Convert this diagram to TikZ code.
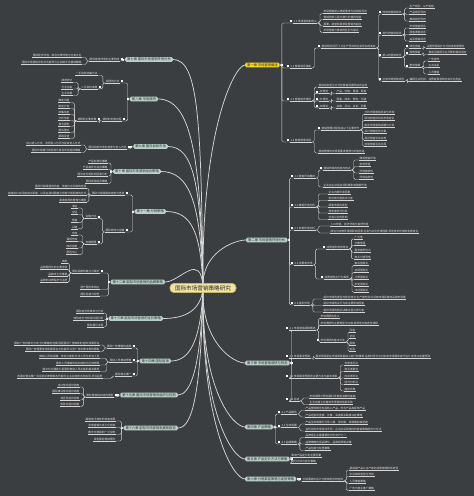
\documentclass[tikz,border=0pt]{standalone}
\usepackage{fontspec}
\usepackage{tikz}
\usetikzlibrary{backgrounds}
\newfontfamily\cjk{Noto Sans CJK SC}
\newcommand\leaffont{\cjk\fontsize{2.7}{3.2}\selectfont}
\newcommand\chapfont{\cjk\fontsize{3.3}{4}\selectfont}
\newcommand\rootfont{\cjk\fontsize{5.6}{6.6}\selectfont}
\definecolor{bgc}{HTML}{3B3E40}
\definecolor{linkc}{HTML}{D6D6D6}
\definecolor{txtc}{HTML}{E4E4E4}
\definecolor{chapc}{HTML}{B8D1C8}
\definecolor{hotc}{HTML}{F3D41E}
\definecolor{rootc}{HTML}{F2E4A4}
\definecolor{rootb}{HTML}{CDB866}
\definecolor{inkc}{HTML}{2A2A2A}
\tikzset{
  uline/.style={append after command={(\tikzlastnode.south west) edge[draw=linkc, line width=0.35pt] (\tikzlastnode.south east)}},
  leaf/.style={font=\leaffont, text=txtc, inner xsep=0.4pt, inner ysep=0.5pt, uline},
  knob/.style={draw=white, line width=2pt},
  lr/.style={leaf, anchor=west},
  ll/.style={leaf, anchor=east},
  hr/.style={lr, append after command={([xshift=-0.6pt]\tikzlastnode.west) edge[knob] ([xshift=-2.6pt]\tikzlastnode.west)}},
  hl/.style={ll, append after command={([xshift=0.6pt]\tikzlastnode.east) edge[knob] ([xshift=2.6pt]\tikzlastnode.east)}},
  chap/.style={fill=chapc, rounded corners=1.4pt, font=\chapfont, text=inkc, inner xsep=2pt, inner ysep=0.9pt},
  chapR/.style={chap, anchor=west, append after command={([xshift=0.8pt]\tikzlastnode.east) edge[knob] ([xshift=2.8pt]\tikzlastnode.east)}},
  chapL/.style={chap, anchor=east, append after command={([xshift=-0.8pt]\tikzlastnode.west) edge[knob] ([xshift=-2.8pt]\tikzlastnode.west)}},
  root/.style={fill=rootc, draw=rootb, line width=0.7pt, rounded corners=4pt, font=\rootfont, text=inkc, inner xsep=5pt, inner ysep=2pt},
  trunk/.style={draw=linkc, line width=0.75pt},
  link/.style={draw=linkc, line width=0.4pt, rounded corners=1.5pt},
  toR/.style={link, to path={(\tikztostart.south east) -- ++(2.5,0) |- (\tikztotarget.south west)}},
  toL/.style={link, to path={(\tikztostart.south west) -- ++(-2.5,0) |- (\tikztotarget.south east)}},
  boxR/.style={link, to path={(\tikztostart.east) -- ++(2,0) |- (\tikztotarget.south west)}},
  boxL/.style={link, to path={(\tikztostart.west) -- ++(-2,0) |- (\tikztotarget.south east)}},
}
\begin{document}
\begin{tikzpicture}[x=1pt, y=-1pt]
    \useasboundingbox (0,0) rectangle (474,496);
    \node[root] (root) at (203,288) {国际市场营销策略研究};

    % chapter 1
    \node[chapR, fill=hotc] (ch1) at (245,65) {第一章 市场营销概述};
    \node[hr] (a1) at (293,21) {1.1 市场营销的含义};
    \node[lr] (a1-1) at (323,11.5) {市场营销是以满足需求为目的的活动};
    \node[lr] (a1-2) at (323,17.5) {营销的核心是交换与价值的创造};
    \node[lr] (a1-3) at (323,24) {需要、欲望和需求是营销的起点};
    \node[lr] (a1-4) at (323,30.5) {市场营销与推销的区别与联系};
    \node[hr] (a2) at (290,66) {1.2 营销观念演变};
    \node[hr] (a21) at (321,46) {营销观念经历了从生产导向到社会导向的演变};
    \node[hr] (a211) at (382,12) {传统的营销观念};
    \node[lr] (a211-1) at (409,6) {生产观念：以产定销};
    \node[lr] (a211-2) at (409,12.5) {产品观念导向};
    \node[lr] (a211-3) at (409,19) {推销观念导向};
    \node[hr] (a212) at (382,33) {现代的营销观念};
    \node[lr] (a212-1) at (409,26) {市场营销观念};
    \node[lr] (a212-2) at (409,32.5) {顾客满意观念};
    \node[lr] (a212-3) at (409,39) {关系营销观念};
    \node[hr] (a213) at (382,55) {新兴的营销观念};
    \node[hr] (a2131) at (409,46) {绿色营销};
    \node[lr] (a2131-1) at (426,46) {注重环境保护与可持续发展理念};
    \node[hr] (a2132) at (409,52.5) {网络营销};
    \node[lr] (a2132-1) at (428,52.5) {借助互联网平台开展的营销活动};
    \node[hr] (a2133) at (409,65.5) {整合营销};
    \node[lr] (a2133-1) at (428,59) {广告宣传};
    \node[lr] (a2133-2) at (428,65.5) {公共关系};
    \node[lr] (a2133-3) at (428,72) {人员推销};
    \node[hr] (a214) at (382,79) {社会市场营销观念};
    \node[lr] (a214-1) at (409,79) {兼顾企业利润、消费者需求和社会长远利益};
    \node[hr] (a3) at (290,99) {1.3 营销组合理论};
    \node[lr] (a3-1) at (318,85) {营销组合是企业可控营销因素的综合运用};
    \node[hr] (a31) at (319,91.5) {4P理论};
    \node[lr] (a31-1) at (336,91.5) {产品、价格、渠道、促销};
    \node[hr] (a32) at (319,99) {4C理论};
    \node[lr] (a32-1) at (336,99) {顾客、成本、便利、沟通};
    \node[hr] (a33) at (319,106) {4R理论};
    \node[lr] (a33-1) at (336,106) {关联、反应、关系、回报};
    \node[hr] (a4) at (290,140) {1.4 营销管理过程};
    \node[hr] (a41) at (321,128) {营销管理过程包括以下主要环节};
    \node[lr] (a41-1) at (364,112) {分析市场营销机会与环境};
    \node[lr] (a41-2) at (364,118.5) {研究和选择目标市场定位};
    \node[lr] (a41-3) at (364,125) {制定市场营销战略与计划};
    \node[lr] (a41-4) at (364,131.5) {设计营销组合方案};
    \node[lr] (a41-5) at (364,138) {组织营销活动实施};
    \node[lr] (a41-6) at (364,144.5) {控制营销活动过程};
    \node[lr] (a4-1) at (318,151) {营销管理的实质是需求管理与价值创造};

    % chapter 2
    \node[chapR] (ch2) at (246,240) {第二章 市场营销环境分析};
    \node[hr] (b1) at (294,176) {2.1 营销环境概述};
    \node[hr] (b11) at (323,168) {营销环境的构成与特点};
    \node[lr] (b11-1) at (359,158) {微观营销环境};
    \node[lr] (b11-2) at (359,164.5) {宏观环境};
    \node[lr] (b11-3) at (359,171) {环境客观性};
    \node[lr] (b11-4) at (359,177.5) {环境动态性};
    \node[lr] (b1-1) at (323,185) {企业应主动适应并积极影响营销环境};
    \node[hr] (b2) at (294,205) {2.2 微观环境分析};
    \node[lr] (b2-1) at (328,192) {企业内部环境因素};
    \node[lr] (b2-2) at (328,198.5) {供应商与营销中介者};
    \node[lr] (b2-3) at (328,205) {顾客市场的类型};
    \node[lr] (b2-4) at (328,211) {竞争者状况分析};
    \node[lr] (b2-5) at (328,217.5) {社会公众的影响};
    \node[hr] (b3) at (294,228) {2.3 宏观环境分析};
    \node[lr] (b3-1) at (330,224) {人口环境、经济环境与自然环境};
    \node[lr] (b3-2) at (330,231) {政治与法律环境的影响因素 社会与文化环境因素 科学技术环境的发展变化};
    \node[hr] (b4) at (294,263) {2.4 消费者市场};
    \node[hr] (b41) at (326,247) {消费者市场的特点};
    \node[lr] (b41-1) at (354,237) {广泛性};
    \node[lr] (b41-2) at (354,243.5) {分散性强};
    \node[lr] (b41-3) at (354,250.5) {需求差异性大};
    \node[lr] (b41-4) at (354,257) {购买可诱导性};
    \node[hr] (b42) at (324,277) {消费者购买行为类型};
    \node[lr] (b42-1) at (354,263.5) {复杂型购买};
    \node[lr] (b42-2) at (354,270.5) {协调型购买};
    \node[lr] (b42-3) at (354,277) {习惯型购买};
    \node[lr] (b42-4) at (354,284) {多变型购买};
    \node[lr] (b42-5) at (354,290.5) {冲动型购买};
    \node[hr] (b5) at (294,303) {2.5 组织市场};
    \node[lr] (b5-1) at (323,297) {组织市场的类型与购买特点 生产者市场 中间商市场及政府采购市场等};
    \node[lr] (b5-2) at (323,303.5) {组织市场购买行为的主要影响因素};
    \node[lr] (b5-3) at (323,310) {组织市场的购买决策过程与参与者};

    % chapter 3
    \node[chapR] (ch3) at (245,363) {第三章 市场营销调研与预测};
    \node[hr] (c1) at (289,328) {3.1 市场营销调研概述};
    \node[lr] (c1-1) at (320,316) {市场调研的含义};
    \node[lr] (c1-2) at (320,323) {市场调研的主要类型与内容 探测性与描述性调研};
    \node[hr] (c11) at (320,340) {市场调研的基本方法};
    \node[lr] (c11-1) at (349,330) {问卷};
    \node[lr] (c11-2) at (349,336.5) {访谈};
    \node[lr] (c11-3) at (349,343) {观察};
    \node[lr] (c11-4) at (349,349.5) {实验};
    \node[hr] (c2) at (289,356) {3.2 市场需求预测};
    \node[lr] (c2-1) at (315,356) {需求预测是在市场调研基础上进行的推断 运用科学方法对未来市场需求进行估计 定性与定量预测};
    \node[hr] (c3) at (289,376) {3.3 市场需求预测的主要方法与基本步骤};
    \node[lr] (c3-1) at (344,363) {专家意见法};
    \node[lr] (c3-2) at (344,369.5) {购买者意向};
    \node[lr] (c3-3) at (344,376) {时间序列法};
    \node[lr] (c3-4) at (344,382.5) {回归分析法};
    \node[lr] (c3-5) at (344,389) {趋势外推};
    \node[hr] (c4) at (289,399) {3.4 总结};
    \node[lr] (c4-1) at (309,396) {市场调研与预测是科学营销决策的基础};
    \node[lr] (c4-2) at (309,402.5) {企业应建立完善的市场营销信息系统};

    % chapter 4
    \node[chapR] (ch4) at (245,427) {第四章 产品策略};
    \node[hr] (d1) at (281,412) {4.1 产品概念};
    \node[lr] (d1-1) at (305,408.5) {产品整体概念包括核心产品、形式产品和延伸产品};
    \node[lr] (d1-2) at (305,415) {产品组合的宽度、长度、深度和关联度决定策略};
    \node[hr] (d2) at (281,425.5) {4.2 生命周期};
    \node[lr] (d2-1) at (305,422) {产品生命周期分为导入期、成长期、成熟期和衰退期};
    \node[lr] (d2-2) at (305,429) {各阶段的市场特点不同，企业应采取相应的营销策略组合与方法};
    \node[hr] (d3) at (281,442) {4.3 品牌策略};
    \node[lr] (d3-1) at (305,435.5) {品牌是企业最重要的无形资产之一};
    \node[lr] (d3-2) at (305,442) {品牌策略包括品牌化、品牌延伸等决策};
    \node[lr] (d3-3) at (305,448.5) {产品包装与标签策略};

    % chapter 5
    \node[chapR] (ch5) at (245,459) {第五章 产品定价方法与策略};
    \node[lr] (e1) at (291,455) {影响产品定价的主要因素};
    \node[lr] (e2) at (291,461.5) {定价方法与定价策略};

    % chapter 6
    \node[chapR] (ch6) at (245,479) {第六章 分销渠道策略与促销策略};
    \node[hr] (f1) at (302,479) {分销渠道的设计与促销组合的选择};
    \node[lr] (f1-1) at (349,468) {渠道是产品从生产者向消费者转移的途径};
    \node[lr] (f1-2) at (349,474.5) {中间商的类型与作用};
    \node[lr] (f1-3) at (349,481.5) {人员推销策略};
    \node[lr] (f1-4) at (349,488.5) {广告与营业推广策略};

    % chapter 7
    \node[chapL] (ch7) at (173,59.5) {第七章 国际市场营销环境分析};
    \node[hl] (g1) at (120,59) {国际营销环境的主要构成};
    \node[ll] (g1-1) at (82,55.5) {国际经济环境、政治法律环境与社会文化};
    \node[ll] (g1-2) at (82,62.5) {国际市场营销中的文化差异与企业跨文化营销策略};

    % chapter 8
    \node[chapL] (ch8) at (158,99) {第八章 市场调研};
    \node[hl] (h1) at (120,81) {调研的方法};
    \node[ll] (h1-1) at (98,73.5) {一手资料收集方法};
    \node[hl] (h11) at (98,87) {二手资料来源};
    \node[ll] (h11-1) at (73,80.5) {政府统计};
    \node[ll] (h11-2) at (73,87) {行业协会};
    \node[ll] (h11-3) at (73,93.5) {企业年报};
    \node[hl] (h2) at (122,119) {调研的实施过程};
    \node[hl] (h21) at (97,119) {调研的主要步骤};
    \node[ll] (h21-1) at (70,100.5) {确定问题};
    \node[ll] (h21-2) at (70,106.5) {制定计划};
    \node[ll] (h21-3) at (70,112.5) {收集信息};
    \node[ll] (h21-4) at (70,118.5) {分析信息};
    \node[ll] (h21-5) at (70,124.5) {撰写报告};
    \node[ll] (h21-6) at (70,130.5) {提出建议};
    \node[ll] (h21-7) at (70,136.5) {跟踪反馈};

    % chapter 9
    \node[chapL] (ch9) at (168,146.5) {第九章 国际目标市场};
    \node[hl] (i1) at (127,147) {国际目标市场的选择与进入方式};
    \node[ll] (i1-1) at (81,143) {出口进入方式、合同进入方式与投资进入方式};
    \node[ll] (i1-2) at (81,150.5) {国际市场细分的标准与目标市场选择策略};

    % chapter 10
    \node[chapL] (ch10) at (161,171.5) {第十章 国际市场营销组合策略};
    \node[ll] (j1) at (108,161) {产品标准化策略};
    \node[ll] (j2) at (108,167.5) {产品差异化适应策略};
    \node[ll] (j3) at (108,174) {国际定价的影响因素分析};
    \node[ll] (j4) at (108,181.5) {国际促销组合策略};

    % chapter 11
    \node[chapL] (ch11) at (166,211.5) {第十一章 分销策略};
    \node[hl] (k1) at (125,193) {国际分销渠道的结构与选择};
    \node[ll] (k1-1) at (87,186) {国际分销渠道的长度、宽度与中间商的选择};
    \node[ll] (k1-2) at (87,193) {直接出口与间接出口渠道，以及在目标国建立自有分销网络的方式};
    \node[ll] (k1-3) at (87,200) {渠道成员的管理与激励};
    \node[hl] (k2) at (125,230) {国际物流与运输};
    \node[hl] (k21) at (97,216.5) {运输方式};
    \node[ll] (k21-1) at (78,206) {海运};
    \node[ll] (k21-2) at (78,212.5) {空运};
    \node[ll] (k21-3) at (78,220.5) {铁路};
    \node[ll] (k21-4) at (78,227) {公路};
    \node[hl] (k22) at (97,242) {仓储管理};
    \node[ll] (k22-1) at (78,233) {仓库};
    \node[ll] (k22-2) at (78,239.5) {保税仓库};
    \node[ll] (k22-3) at (78,246) {库存控制};
    \node[ll] (k22-4) at (78,252.5) {配送中心};

    % chapter 12
    \node[chapL] (ch12) at (165,282) {第十二章 国际市场营销的品牌策略};
    \node[hl] (l1) at (100,271) {国际品牌的建立与保护};
    \node[ll] (l1-1) at (68,261) {商标};
    \node[ll] (l1-2) at (68,267.5) {品牌国际化的主要途径};
    \node[ll] (l1-3) at (68,274) {品牌本土化策略};
    \node[ll] (l1-4) at (68,280.5) {品牌的法律保护与注册};
    \node[ll] (l2) at (100,287.5) {原产国形象效应};
    \node[ll] (l3) at (100,294) {国际包装与标签};

    % chapter 13
    \node[chapL] (ch13) at (163,318.5) {第十三章 国际市场营销的定价策略};
    \node[ll] (m1) at (104,311) {国际定价的目标与方法};
    \node[ll] (m2) at (104,318) {转移定价与倾销问题分析};
    \node[ll] (m3) at (104,325) {国际报价术语};

    % chapter 14
    \node[chapL] (ch14) at (171,361) {第十四章 国际促销};
    \node[hl] (n1) at (132,346) {国际广告策略的选择};
    \node[ll] (n1-1) at (100,343) {国际广告标准化与本土化策略的选择问题 国际广告媒体的选择 效果评估};
    \node[ll] (n1-2) at (100,349.5) {国际广告需要考虑各国语言文化差异 以及广告法律法规的限制};
    \node[hl] (n2) at (132,360) {国际人员推销管理};
    \node[ll] (n2-1) at (100,356.5) {推销人员的招聘、培训与激励 外派人员与本地人员};
    \node[ll] (n2-2) at (100,363) {国际人员推销的组织结构与区域管理};
    \node[ll] (n2-3) at (100,369.5) {跨文化沟通能力是国际推销人员必备的基本素质};
    \node[hl] (n3) at (132,374) {国际营业推广};
    \node[ll] (n3-1) at (103,376.5) {各国对营业推广活动的法律限制各不相同 企业应结合当地实际 灵活运用};

    % chapter 15
    \node[chapL] (ch15) at (178,395) {第十五章 国际市场营销的组织与控制};
    \node[hl] (o1) at (114,395) {国际营销组织结构类型};
    \node[ll] (o1-1) at (80,385) {出口部式组织结构};
    \node[ll] (o1-2) at (80,391.5) {国际事业部式组织结构};
    \node[ll] (o1-3) at (80,398) {地区性组织结构};
    \node[ll] (o1-4) at (80,404.5) {矩阵式组织结构};

    % chapter 16
    \node[chapL] (ch16) at (178,428) {第十六章 国际市场营销发展新趋势};
    \node[ll] (p1) at (116,419) {跨境电子商务的快速发展};
    \node[ll] (p2) at (116,425.5) {全球营销与本土化结合};
    \node[ll] (p3) at (116,432.5) {数字化营销的广泛应用};
    \node[ll] (p4) at (116,439) {绿色国际营销理念};

    % branches, right side
    \foreach \kid in {a1,a2,a3,a4} \path (ch1) edge[boxR] (\kid);
    \foreach \kid in {a1-1,a1-2,a1-3,a1-4} \path (a1) edge[toR] (\kid);
    \path (a2) edge[toR] (a21);
    \foreach \kid in {a211,a212,a213,a214} \path (a21) edge[toR] (\kid);
    \foreach \kid in {a211-1,a211-2,a211-3} \path (a211) edge[toR] (\kid);
    \foreach \kid in {a212-1,a212-2,a212-3} \path (a212) edge[toR] (\kid);
    \foreach \kid in {a2131,a2132,a2133} \path (a213) edge[toR] (\kid);
    \path (a2131) edge[toR] (a2131-1);
    \path (a2132) edge[toR] (a2132-1);
    \foreach \kid in {a2133-1,a2133-2,a2133-3} \path (a2133) edge[toR] (\kid);
    \path (a214) edge[toR] (a214-1);
    \foreach \kid in {a3-1,a31,a32,a33} \path (a3) edge[toR] (\kid);
    \path (a31) edge[toR] (a31-1);
    \path (a32) edge[toR] (a32-1);
    \path (a33) edge[toR] (a33-1);
    \foreach \kid in {a41,a4-1} \path (a4) edge[toR] (\kid);
    \foreach \kid in {a41-1,a41-2,a41-3,a41-4,a41-5,a41-6} \path (a41) edge[toR] (\kid);

    \foreach \kid in {b1,b2,b3,b4,b5} \path (ch2) edge[boxR] (\kid);
    \foreach \kid in {b11,b1-1} \path (b1) edge[toR] (\kid);
    \foreach \kid in {b11-1,b11-2,b11-3,b11-4} \path (b11) edge[toR] (\kid);
    \foreach \kid in {b2-1,b2-2,b2-3,b2-4,b2-5} \path (b2) edge[toR] (\kid);
    \foreach \kid in {b3-1,b3-2} \path (b3) edge[toR] (\kid);
    \foreach \kid in {b41,b42} \path (b4) edge[toR] (\kid);
    \foreach \kid in {b41-1,b41-2,b41-3,b41-4} \path (b41) edge[toR] (\kid);
    \foreach \kid in {b42-1,b42-2,b42-3,b42-4,b42-5} \path (b42) edge[toR] (\kid);
    \foreach \kid in {b5-1,b5-2,b5-3} \path (b5) edge[toR] (\kid);

    \foreach \kid in {c1,c2,c3,c4} \path (ch3) edge[boxR] (\kid);
    \foreach \kid in {c1-1,c1-2,c11} \path (c1) edge[toR] (\kid);
    \foreach \kid in {c11-1,c11-2,c11-3,c11-4} \path (c11) edge[toR] (\kid);
    \path (c2) edge[toR] (c2-1);
    \foreach \kid in {c3-1,c3-2,c3-3,c3-4,c3-5} \path (c3) edge[toR] (\kid);
    \foreach \kid in {c4-1,c4-2} \path (c4) edge[toR] (\kid);

    \foreach \kid in {d1,d2,d3} \path (ch4) edge[boxR] (\kid);
    \foreach \kid in {d1-1,d1-2} \path (d1) edge[toR] (\kid);
    \foreach \kid in {d2-1,d2-2} \path (d2) edge[toR] (\kid);
    \foreach \kid in {d3-1,d3-2,d3-3} \path (d3) edge[toR] (\kid);

    \foreach \kid in {e1,e2} \path (ch5) edge[boxR] (\kid);
    \path (ch6) edge[boxR] (f1);
    \foreach \kid in {f1-1,f1-2,f1-3,f1-4} \path (f1) edge[toR] (\kid);

    % branches, left side
    \path (ch7) edge[boxL] (g1);
    \foreach \kid in {g1-1,g1-2} \path (g1) edge[toL] (\kid);
    \foreach \kid in {h1,h2} \path (ch8) edge[boxL] (\kid);
    \foreach \kid in {h1-1,h11} \path (h1) edge[toL] (\kid);
    \foreach \kid in {h11-1,h11-2,h11-3} \path (h11) edge[toL] (\kid);
    \path (h2) edge[toL] (h21);
    \foreach \kid in {h21-1,h21-2,h21-3,h21-4,h21-5,h21-6,h21-7} \path (h21) edge[toL] (\kid);
    \path (ch9) edge[boxL] (i1);
    \foreach \kid in {i1-1,i1-2} \path (i1) edge[toL] (\kid);
    \foreach \kid in {j1,j2,j3,j4} \path (ch10) edge[boxL] (\kid);
    \foreach \kid in {k1,k2} \path (ch11) edge[boxL] (\kid);
    \foreach \kid in {k1-1,k1-2,k1-3} \path (k1) edge[toL] (\kid);
    \foreach \kid in {k21,k22} \path (k2) edge[toL] (\kid);
    \foreach \kid in {k21-1,k21-2,k21-3,k21-4} \path (k21) edge[toL] (\kid);
    \foreach \kid in {k22-1,k22-2,k22-3,k22-4} \path (k22) edge[toL] (\kid);
    \foreach \kid in {l1,l2,l3} \path (ch12) edge[boxL] (\kid);
    \foreach \kid in {l1-1,l1-2,l1-3,l1-4} \path (l1) edge[toL] (\kid);
    \foreach \kid in {m1,m2,m3} \path (ch13) edge[boxL] (\kid);
    \foreach \kid in {n1,n2,n3} \path (ch14) edge[boxL] (\kid);
    \foreach \kid in {n1-1,n1-2} \path (n1) edge[toL] (\kid);
    \foreach \kid in {n2-1,n2-2,n2-3} \path (n2) edge[toL] (\kid);
    \path (n3) edge[toL] (n3-1);
    \path (ch15) edge[boxL] (o1);
    \foreach \kid in {o1-1,o1-2,o1-3,o1-4} \path (o1) edge[toL] (\kid);
    \foreach \kid in {p1,p2,p3,p4} \path (ch16) edge[boxL] (\kid);

    \begin{scope}[on background layer]
        \fill[bgc] (0,0) rectangle (474,496);
        \draw[trunk] (root.center) .. controls (201,128) and (235,65) .. (ch1.west);
        \draw[trunk] (root.center) .. controls (201,253) and (234,240) .. (ch2.west);
        \draw[trunk] (root.center) .. controls (201,342) and (233,363) .. (ch3.west);
        \draw[trunk] (root.center) .. controls (201,390) and (233,427) .. (ch4.west);
        \draw[trunk] (root.center) .. controls (201,412) and (233,459) .. (ch5.west);
        \draw[trunk] (root.center) .. controls (201,425) and (233,479) .. (ch6.west);
        \draw[trunk] (root.center) .. controls (201,124) and (199,59.5) .. (ch7.east);
        \draw[trunk] (root.center) .. controls (201,152) and (190,99) .. (ch8.east);
        \draw[trunk] (root.center) .. controls (201,186) and (194,146.5) .. (ch9.east);
        \draw[trunk] (root.center) .. controls (201,204) and (190,171.5) .. (ch10.east);
        \draw[trunk] (root.center) .. controls (201,233) and (192,211.5) .. (ch11.east);
        \draw[trunk] (root.center) .. controls (201,250) and (180,282) .. (ch12.east);
        \draw[trunk] (root.center) .. controls (201,312) and (183,318.5) .. (ch13.east);
        \draw[trunk] (root.center) .. controls (201,340) and (190,361) .. (ch14.east);
        \draw[trunk] (root.center) .. controls (201,370) and (190,395) .. (ch15.east);
        \draw[trunk] (root.center) .. controls (201,395) and (192,428) .. (ch16.east);
    \end{scope}
\end{tikzpicture}
\end{document}
